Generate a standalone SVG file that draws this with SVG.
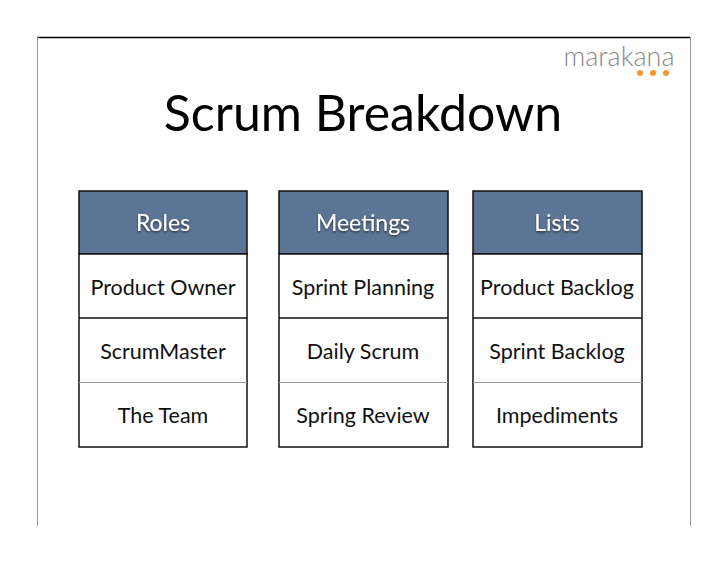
<svg xmlns="http://www.w3.org/2000/svg" width="728" height="563" viewBox="0 0 728 563">
<defs>
<style>
.frame{stroke:#999;stroke-width:1;fill:none}
.cell{fill:#fff;stroke:#111;stroke-width:1.5}
.head{fill:#5d7594;stroke:#111;stroke-width:1.5}
.sep{stroke:#999;stroke-width:1}
.ht{font-family:Lato,"Open Sans",sans-serif;font-size:23px;fill:#fff;text-anchor:middle}
.bt{font-family:Lato,"Open Sans",sans-serif;font-size:21.5px;fill:#111;text-anchor:middle}
</style>
<filter id="sh" x="-20%" y="-20%" width="140%" height="160%">
<feDropShadow dx="0" dy="1.5" stdDeviation="1" flood-color="#000" flood-opacity="0.6"/>
</filter>
</defs>
<rect width="728" height="563" fill="#fff"/>
<g id="frame">
<line x1="37" y1="37.5" x2="690" y2="37.5" stroke="#000" stroke-width="1.5"/>
<line class="frame" x1="37.5" y1="37" x2="37.5" y2="526"/>
<line class="frame" x1="690.5" y1="37" x2="690.5" y2="526"/>
</g>
<g id="logo">
<text x="619" y="66" font-family="Lato,'Open Sans',sans-serif" font-weight="300" font-size="27" fill="#8a8a8a" text-anchor="middle">marakana</text>
<circle cx="640" cy="73" r="3" fill="#f29a2e"/>
<circle cx="653" cy="73" r="3" fill="#f29a2e"/>
<circle cx="666" cy="73" r="3" fill="#f29a2e"/>
</g>
<g id="title">
<text x="363" y="131" font-family="Lato,'Open Sans',sans-serif" font-size="50" fill="#000" text-anchor="middle">Scrum Breakdown</text>
</g>
<g id="col-roles">
<rect class="head" x="79" y="191" width="168" height="63"/>
<text class="ht" x="163" y="231" filter="url(#sh)">Roles</text>
<rect class="cell" x="79" y="254" width="168" height="193"/>
<line x1="79" y1="318" x2="247" y2="318" stroke="#111" stroke-width="1.5"/>
<line class="sep" x1="79" y1="382.5" x2="247" y2="382.5"/>
<text class="bt" x="163" y="295">Product Owner</text>
<text class="bt" x="163" y="359">ScrumMaster</text>
<text class="bt" x="163" y="423">The Team</text>
</g>
<g id="col-meetings">
<rect class="head" x="279" y="191" width="169" height="63"/>
<text class="ht" x="363" y="231" filter="url(#sh)">Meetings</text>
<rect class="cell" x="279" y="254" width="169" height="193"/>
<line x1="279" y1="318" x2="448" y2="318" stroke="#111" stroke-width="1.5"/>
<line class="sep" x1="279" y1="382.5" x2="448" y2="382.5"/>
<text class="bt" x="363" y="295">Sprint Planning</text>
<text class="bt" x="363" y="359">Daily Scrum</text>
<text class="bt" x="363" y="423">Spring Review</text>
</g>
<g id="col-lists">
<rect class="head" x="473" y="191" width="169" height="63"/>
<text class="ht" x="557" y="231" filter="url(#sh)">Lists</text>
<rect class="cell" x="473" y="254" width="169" height="193"/>
<line x1="473" y1="318" x2="642" y2="318" stroke="#111" stroke-width="1.5"/>
<line class="sep" x1="473" y1="382.5" x2="642" y2="382.5"/>
<text class="bt" x="557" y="295">Product Backlog</text>
<text class="bt" x="557" y="359">Sprint Backlog</text>
<text class="bt" x="557" y="423">Impediments</text>
</g>
</svg>
